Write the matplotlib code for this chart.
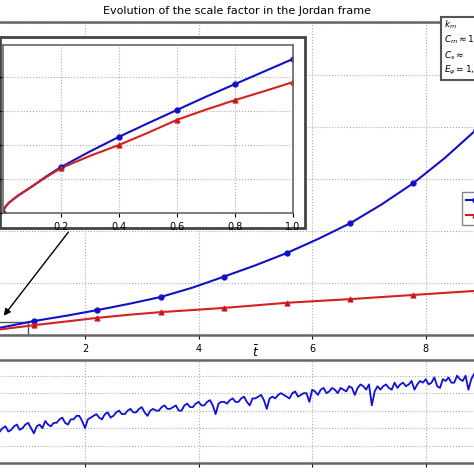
import numpy as np
import matplotlib
matplotlib.use("Agg")
import matplotlib.pyplot as plt
from matplotlib.patches import Rectangle

# main panel, values
t_main = [0.0, 0.3, 0.6, 1.11, 1.67, 2.22, 2.78, 3.33, 3.89, 4.44, 5.0, 5.56, 6.11, 6.67, 7.22, 7.78, 8.33, 8.89, 9.5]
a_blue = [0.0, 0.10, 0.16, 0.27, 0.37, 0.48, 0.60, 0.73, 0.91, 1.12, 1.34, 1.58, 1.85, 2.15, 2.51, 2.92, 3.40, 3.95, 4.6]
a_red = [0.0, 0.08, 0.12, 0.19, 0.26, 0.33, 0.39, 0.44, 0.48, 0.52, 0.57, 0.62, 0.655, 0.69, 0.73, 0.77, 0.81, 0.85, 0.89]
t_mark = [0.0, 1.11, 2.22, 3.33, 4.44, 5.56, 6.67, 7.78, 8.89]
blue_mark = [0.0, 0.27, 0.48, 0.73, 1.12, 1.58, 2.15, 2.92, 3.95]
red_mark = [0.0, 0.19, 0.33, 0.44, 0.52, 0.62, 0.69, 0.77, 0.85]

# inset (zoom on 0 <= t <= 1)
t_in = [0.0, 0.005, 0.01, 0.02, 0.035, 0.05, 0.075, 0.1, 0.15, 0.2, 0.3, 0.4, 0.5, 0.6, 0.7, 0.8, 0.9, 1.0]
in_blue = [0.0, 0.007, 0.010, 0.015, 0.020, 0.025, 0.032, 0.039, 0.054, 0.0675, 0.0905, 0.112, 0.132, 0.1515, 0.171, 0.1895, 0.208, 0.2265]
in_red = [0.0, 0.007, 0.010, 0.015, 0.020, 0.025, 0.032, 0.039, 0.053, 0.066, 0.084, 0.100, 0.118, 0.137, 0.152, 0.166, 0.179, 0.1925]
t_in_mark = [0.0, 0.2, 0.4, 0.6, 0.8, 1.0]
in_blue_mark = [0.0, 0.0675, 0.112, 0.1515, 0.1895, 0.2265]
in_red_mark = [0.0, 0.066, 0.100, 0.137, 0.166, 0.1925]

# bottom panel, noisy signal
t_low_start, t_low_step = 0.5, 0.05
low_vals = [1.8, 2.0, 2.1, 1.8, 1.9, 2.1, 2.2, 1.9, 2.0, 2.2,
            2.3, 2.0, 1.7, 2.1, 2.2, 2.0, 2.4, 2.2, 2.1, 2.3,
            2.3, 2.5, 2.6, 2.3, 2.2, 2.5, 2.5, 2.7, 2.7, 2.4,
            2.0, 2.5, 2.6, 2.7, 2.8, 2.6, 2.5, 2.8, 2.9, 2.6,
            2.7, 2.9, 3.0, 2.8, 2.8, 3.0, 3.1, 2.9, 2.9, 3.1,
            3.2, 2.9, 2.7, 3.0, 3.1, 3.0, 3.0, 3.2, 3.3, 3.1,
            3.1, 3.2, 3.3, 3.0, 3.0, 3.3, 3.4, 3.2, 3.2, 3.4,
            3.5, 3.3, 3.3, 3.5, 3.6, 3.3, 2.8, 3.4, 3.5, 3.5,
            3.4, 3.6, 3.7, 3.5, 3.5, 3.7, 3.8, 3.5, 3.3, 3.7,
            3.7, 3.8, 3.9, 3.6, 3.1, 3.7, 3.8, 3.7, 3.9, 4.0,
            3.9, 3.8, 3.7, 4.0, 4.1, 3.8, 3.9, 4.0, 4.0, 3.5,
            4.2, 4.1, 3.9, 4.2, 4.3, 4.0, 4.1, 4.3, 4.2, 4.0,
            4.3, 4.2, 4.1, 4.4, 4.3, 3.9, 4.3, 4.5, 4.4, 4.2,
            4.5, 3.3, 4.1, 4.4, 4.2, 4.4, 4.5, 4.3, 4.2, 4.6,
            4.3, 4.5, 4.6, 4.4, 4.5, 4.7, 4.2, 4.5, 4.7, 4.6,
            4.8, 4.5, 4.6, 4.9, 4.4, 4.3, 4.8, 4.7, 4.9, 4.6,
            4.6, 5.0, 4.8, 4.7, 5.0, 4.2, 4.8, 5.1]
t_low = t_low_start + t_low_step * np.arange(len(low_vals))

W = 474.0
fig = plt.figure(figsize=(4.74, 4.74), dpi=100)

def px_box(x0, y0, x1, y1):
    return [x0 / W, 1 - y1 / W, (x1 - x0) / W, (y1 - y0) / W]

spine_col = "#666666"
grid_kw = dict(color="#aaaaaa", linestyle=":", linewidth=0.8)

# main axes (extends beyond the crop)
ax = fig.add_axes(px_box(-28.6, 22, -28.6 + 568, 335))
ax.plot(t_main, a_blue, color="#1010c8", lw=1.5)
ax.plot(t_main, a_red, color="#d42020", lw=1.5)
ax.plot(t_mark, blue_mark, color="#1010c8", lw=1.5, ls="none", marker="o", ms=3.5)
ax.plot(t_mark, red_mark, color="#d42020", ls="none", marker="^", ms=3.5, mfc="#a01010")
ax.plot([], [], color="#1010c8", lw=1.5, marker="o", ms=3.5, label="Jordan frame")
ax.plot([], [], color="#d42020", lw=1.5, marker="^", ms=3.5, mfc="#a01010", label="Einstein frame")
ax.set_xlim(0, 10)
ax.set_ylim(0, 6.02)
ax.set_xticks([2, 4, 6, 8])
ax.set_yticks(range(7))
ax.set_yticklabels([])
ax.grid(True, **grid_kw)
ax.set_xlabel(r"$\bar{t}$", fontsize=9, labelpad=-10)
ax.xaxis.set_label_coords(0.5, -0.03)
ax.tick_params(labelsize=7, length=3)
for s in ax.spines.values():
    s.set_color(spine_col)
    s.set_linewidth(1.8)
ax.add_patch(Rectangle((0, 0), 1, 0.25, fill=False, edgecolor="#555555", lw=1))
ax.legend(loc="upper left", bbox_to_anchor=((457 + 28.6) / 568, 1 - (187 - 22) / 313),
          fontsize=7, frameon=True, edgecolor=spine_col, fancybox=False, handlelength=2)

# bottom axes
ax2 = fig.add_axes(px_box(-28.6, 360, -28.6 + 568, 463))
ax2.plot(t_low, low_vals, color="#1010d8", lw=1.3)
ax2.set_xlim(0, 10)
ax2.set_ylim(0, 5.9)
ax2.set_xticks([2, 4, 6, 8])
ax2.set_xticklabels([])
ax2.set_yticks(range(6))
ax2.set_yticklabels([])
ax2.grid(True, **grid_kw)
ax2.tick_params(length=3)
for s in ax2.spines.values():
    s.set_color(spine_col)
    s.set_linewidth(1.8)

fig.text(0.5, 1 - 11 / W, "Evolution of the scale factor in the Jordan frame",
         ha="center", va="center", fontsize=8)

# inset frame and inset axes
fig.add_artist(Rectangle((0 / W, 1 - 228 / W), 305 / W, 191 / W, transform=fig.transFigure,
                         facecolor="white", edgecolor="#444444", lw=2, zorder=3))
axi = fig.add_axes(px_box(3, 45, 293, 213), zorder=4)
axi.plot(t_in, in_blue, color="#1010c8", lw=1.5)
axi.plot(t_in, in_red, color="#d42020", lw=1.5)
axi.plot(t_in_mark, in_blue_mark, ls="none", marker="o", ms=3.5, color="#1010c8")
axi.plot(t_in_mark, in_red_mark, ls="none", marker="^", ms=3.5, color="#d42020", mfc="#a01010")
axi.set_xlim(0, 1)
axi.set_ylim(0, 0.247)
axi.set_yticks([0, 0.05, 0.1, 0.15, 0.2])
axi.set_yticklabels([])
axi.set_xticks([0.2, 0.4, 0.6, 0.8, 1.0])
axi.grid(True, **grid_kw)
axi.tick_params(labelsize=7, length=3)
for s in axi.spines.values():
    s.set_color(spine_col)
    s.set_linewidth(1.2)

# parameter box in the top right (cut by the crop in the reference)
fig.text(444 / W, 1 - 48 / W,
         "$k_{m}$\n$C_m \\approx 1$\n$C_s \\approx$\n$E_\\psi = 1,$",
         ha="left", va="center", fontsize=6.5, zorder=5, linespacing=1.3,
         bbox=dict(boxstyle="square,pad=0.3", facecolor="white", edgecolor="#555555", lw=1.5))

fig.add_artist(plt.Annotation("", xy=(2 / W, 1 - 318 / W), xytext=(70 / W, 1 - 230 / W),
                              xycoords="figure fraction", textcoords="figure fraction",
                              arrowprops=dict(arrowstyle="-|>", color="black", lw=1)))

fig.savefig("out.png", dpi=100)
